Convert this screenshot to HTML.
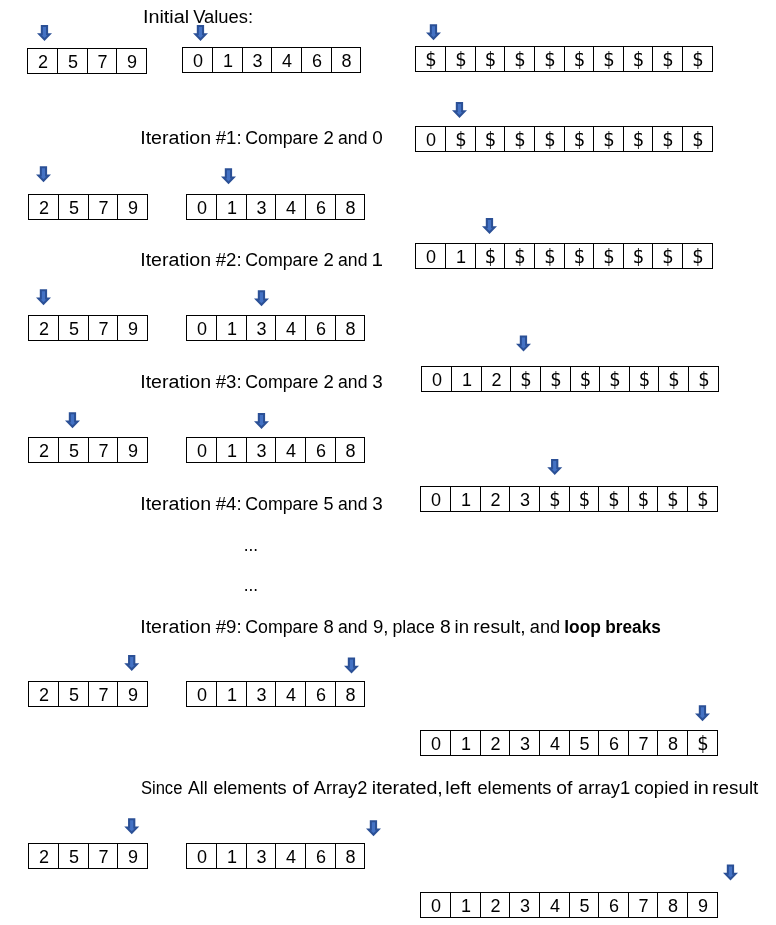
<!DOCTYPE html>
<html lang="en">
<head>
<meta charset="utf-8">
<title>Merge two sorted arrays</title>
<style>
html,body{margin:0;padding:0;background:#fff;}
body{width:776px;height:925px;overflow:hidden;}
svg{display:block;will-change:transform;transform:translateZ(0);}
text{font-family:"Liberation Sans",sans-serif;fill:#000;}
.t{font-size:18px;}
.b{font-size:18px;font-weight:bold;}
.d{font-size:18px;text-anchor:middle;}
.s{font-family:"DejaVu Sans Condensed","DejaVu Sans","Liberation Sans",sans-serif;font-size:20px;text-anchor:middle;}
.g{fill:none;stroke:#000;stroke-width:1;shape-rendering:crispEdges;}
.ao{fill:#2b5096;}
.ai{fill:#4472c4;}
</style>
</head>
<body>
<svg width="776" height="925" viewBox="0 0 776 925">

<path class="g" d="M27.5 48.5H146.5V73.5H27.5ZM57.5 48.5V73.5M87.5 48.5V73.5M116.5 48.5V73.5"/>
<text class="d" x="43.10" y="68.00">2</text>
<text class="d" x="73.10" y="68.00">5</text>
<text class="d" x="102.60" y="68.00">7</text>
<text class="d" x="132.10" y="68.00">9</text>
<path class="g" d="M182.5 47.5H360.5V72.5H182.5ZM212.5 47.5V72.5M242.5 47.5V72.5M271.5 47.5V72.5M301.5 47.5V72.5M331.5 47.5V72.5"/>
<text class="d" x="198.10" y="67.00">0</text>
<text class="d" x="228.10" y="67.00">1</text>
<text class="d" x="257.60" y="67.00">3</text>
<text class="d" x="287.10" y="67.00">4</text>
<text class="d" x="317.10" y="67.00">6</text>
<text class="d" x="346.60" y="67.00">8</text>
<path class="g" d="M415.5 46.5H712.5V71.5H415.5ZM445.5 46.5V71.5M475.5 46.5V71.5M504.5 46.5V71.5M534.5 46.5V71.5M564.5 46.5V71.5M593.5 46.5V71.5M623.5 46.5V71.5M652.5 46.5V71.5M682.5 46.5V71.5"/>
<text class="s" x="431.10" y="65.80">$</text>
<text class="s" x="461.10" y="65.80">$</text>
<text class="s" x="490.60" y="65.80">$</text>
<text class="s" x="520.10" y="65.80">$</text>
<text class="s" x="550.10" y="65.80">$</text>
<text class="s" x="579.60" y="65.80">$</text>
<text class="s" x="609.10" y="65.80">$</text>
<text class="s" x="638.60" y="65.80">$</text>
<text class="s" x="668.10" y="65.80">$</text>
<text class="s" x="698.10" y="65.80">$</text>
<path class="g" d="M415.5 126.5H712.5V151.5H415.5ZM445.5 126.5V151.5M475.5 126.5V151.5M504.5 126.5V151.5M534.5 126.5V151.5M564.5 126.5V151.5M593.5 126.5V151.5M623.5 126.5V151.5M652.5 126.5V151.5M682.5 126.5V151.5"/>
<text class="d" x="431.10" y="146.00">0</text>
<text class="s" x="461.10" y="145.80">$</text>
<text class="s" x="490.60" y="145.80">$</text>
<text class="s" x="520.10" y="145.80">$</text>
<text class="s" x="550.10" y="145.80">$</text>
<text class="s" x="579.60" y="145.80">$</text>
<text class="s" x="609.10" y="145.80">$</text>
<text class="s" x="638.60" y="145.80">$</text>
<text class="s" x="668.10" y="145.80">$</text>
<text class="s" x="698.10" y="145.80">$</text>
<path class="g" d="M28.5 194.5H147.5V219.5H28.5ZM58.5 194.5V219.5M88.5 194.5V219.5M117.5 194.5V219.5"/>
<text class="d" x="44.10" y="214.00">2</text>
<text class="d" x="74.10" y="214.00">5</text>
<text class="d" x="103.60" y="214.00">7</text>
<text class="d" x="133.10" y="214.00">9</text>
<path class="g" d="M186.5 194.5H364.5V219.5H186.5ZM216.5 194.5V219.5M246.5 194.5V219.5M275.5 194.5V219.5M305.5 194.5V219.5M335.5 194.5V219.5"/>
<text class="d" x="202.10" y="214.00">0</text>
<text class="d" x="232.10" y="214.00">1</text>
<text class="d" x="261.60" y="214.00">3</text>
<text class="d" x="291.10" y="214.00">4</text>
<text class="d" x="321.10" y="214.00">6</text>
<text class="d" x="350.60" y="214.00">8</text>
<path class="g" d="M415.5 243.5H712.5V268.5H415.5ZM445.5 243.5V268.5M475.5 243.5V268.5M504.5 243.5V268.5M534.5 243.5V268.5M564.5 243.5V268.5M593.5 243.5V268.5M623.5 243.5V268.5M652.5 243.5V268.5M682.5 243.5V268.5"/>
<text class="d" x="431.10" y="263.00">0</text>
<text class="d" x="461.10" y="263.00">1</text>
<text class="s" x="490.60" y="262.80">$</text>
<text class="s" x="520.10" y="262.80">$</text>
<text class="s" x="550.10" y="262.80">$</text>
<text class="s" x="579.60" y="262.80">$</text>
<text class="s" x="609.10" y="262.80">$</text>
<text class="s" x="638.60" y="262.80">$</text>
<text class="s" x="668.10" y="262.80">$</text>
<text class="s" x="698.10" y="262.80">$</text>
<path class="g" d="M28.5 315.5H147.5V340.5H28.5ZM58.5 315.5V340.5M88.5 315.5V340.5M117.5 315.5V340.5"/>
<text class="d" x="44.10" y="335.00">2</text>
<text class="d" x="74.10" y="335.00">5</text>
<text class="d" x="103.60" y="335.00">7</text>
<text class="d" x="133.10" y="335.00">9</text>
<path class="g" d="M186.5 315.5H364.5V340.5H186.5ZM216.5 315.5V340.5M246.5 315.5V340.5M275.5 315.5V340.5M305.5 315.5V340.5M335.5 315.5V340.5"/>
<text class="d" x="202.10" y="335.00">0</text>
<text class="d" x="232.10" y="335.00">1</text>
<text class="d" x="261.60" y="335.00">3</text>
<text class="d" x="291.10" y="335.00">4</text>
<text class="d" x="321.10" y="335.00">6</text>
<text class="d" x="350.60" y="335.00">8</text>
<path class="g" d="M421.5 366.5H718.5V391.5H421.5ZM451.5 366.5V391.5M481.5 366.5V391.5M510.5 366.5V391.5M540.5 366.5V391.5M570.5 366.5V391.5M599.5 366.5V391.5M629.5 366.5V391.5M658.5 366.5V391.5M688.5 366.5V391.5"/>
<text class="d" x="437.10" y="386.00">0</text>
<text class="d" x="467.10" y="386.00">1</text>
<text class="d" x="496.60" y="386.00">2</text>
<text class="s" x="526.10" y="385.80">$</text>
<text class="s" x="556.10" y="385.80">$</text>
<text class="s" x="585.60" y="385.80">$</text>
<text class="s" x="615.10" y="385.80">$</text>
<text class="s" x="644.60" y="385.80">$</text>
<text class="s" x="674.10" y="385.80">$</text>
<text class="s" x="704.10" y="385.80">$</text>
<path class="g" d="M28.5 437.5H147.5V462.5H28.5ZM58.5 437.5V462.5M88.5 437.5V462.5M117.5 437.5V462.5"/>
<text class="d" x="44.10" y="457.00">2</text>
<text class="d" x="74.10" y="457.00">5</text>
<text class="d" x="103.60" y="457.00">7</text>
<text class="d" x="133.10" y="457.00">9</text>
<path class="g" d="M186.5 437.5H364.5V462.5H186.5ZM216.5 437.5V462.5M246.5 437.5V462.5M275.5 437.5V462.5M305.5 437.5V462.5M335.5 437.5V462.5"/>
<text class="d" x="202.10" y="457.00">0</text>
<text class="d" x="232.10" y="457.00">1</text>
<text class="d" x="261.60" y="457.00">3</text>
<text class="d" x="291.10" y="457.00">4</text>
<text class="d" x="321.10" y="457.00">6</text>
<text class="d" x="350.60" y="457.00">8</text>
<path class="g" d="M420.5 486.5H717.5V511.5H420.5ZM450.5 486.5V511.5M480.5 486.5V511.5M509.5 486.5V511.5M539.5 486.5V511.5M569.5 486.5V511.5M598.5 486.5V511.5M628.5 486.5V511.5M657.5 486.5V511.5M687.5 486.5V511.5"/>
<text class="d" x="436.10" y="506.00">0</text>
<text class="d" x="466.10" y="506.00">1</text>
<text class="d" x="495.60" y="506.00">2</text>
<text class="d" x="525.10" y="506.00">3</text>
<text class="s" x="555.10" y="505.80">$</text>
<text class="s" x="584.60" y="505.80">$</text>
<text class="s" x="614.10" y="505.80">$</text>
<text class="s" x="643.60" y="505.80">$</text>
<text class="s" x="673.10" y="505.80">$</text>
<text class="s" x="703.10" y="505.80">$</text>
<path class="g" d="M28.5 681.5H147.5V706.5H28.5ZM58.5 681.5V706.5M88.5 681.5V706.5M117.5 681.5V706.5"/>
<text class="d" x="44.10" y="701.00">2</text>
<text class="d" x="74.10" y="701.00">5</text>
<text class="d" x="103.60" y="701.00">7</text>
<text class="d" x="133.10" y="701.00">9</text>
<path class="g" d="M186.5 681.5H364.5V706.5H186.5ZM216.5 681.5V706.5M246.5 681.5V706.5M275.5 681.5V706.5M305.5 681.5V706.5M335.5 681.5V706.5"/>
<text class="d" x="202.10" y="701.00">0</text>
<text class="d" x="232.10" y="701.00">1</text>
<text class="d" x="261.60" y="701.00">3</text>
<text class="d" x="291.10" y="701.00">4</text>
<text class="d" x="321.10" y="701.00">6</text>
<text class="d" x="350.60" y="701.00">8</text>
<path class="g" d="M420.5 730.5H717.5V755.5H420.5ZM450.5 730.5V755.5M480.5 730.5V755.5M509.5 730.5V755.5M539.5 730.5V755.5M569.5 730.5V755.5M598.5 730.5V755.5M628.5 730.5V755.5M657.5 730.5V755.5M687.5 730.5V755.5"/>
<text class="d" x="436.10" y="750.00">0</text>
<text class="d" x="466.10" y="750.00">1</text>
<text class="d" x="495.60" y="750.00">2</text>
<text class="d" x="525.10" y="750.00">3</text>
<text class="d" x="555.10" y="750.00">4</text>
<text class="d" x="584.60" y="750.00">5</text>
<text class="d" x="614.10" y="750.00">6</text>
<text class="d" x="643.60" y="750.00">7</text>
<text class="d" x="673.10" y="750.00">8</text>
<text class="s" x="703.10" y="749.80">$</text>
<path class="g" d="M28.5 843.5H147.5V868.5H28.5ZM58.5 843.5V868.5M88.5 843.5V868.5M117.5 843.5V868.5"/>
<text class="d" x="44.10" y="863.00">2</text>
<text class="d" x="74.10" y="863.00">5</text>
<text class="d" x="103.60" y="863.00">7</text>
<text class="d" x="133.10" y="863.00">9</text>
<path class="g" d="M186.5 843.5H364.5V868.5H186.5ZM216.5 843.5V868.5M246.5 843.5V868.5M275.5 843.5V868.5M305.5 843.5V868.5M335.5 843.5V868.5"/>
<text class="d" x="202.10" y="863.00">0</text>
<text class="d" x="232.10" y="863.00">1</text>
<text class="d" x="261.60" y="863.00">3</text>
<text class="d" x="291.10" y="863.00">4</text>
<text class="d" x="321.10" y="863.00">6</text>
<text class="d" x="350.60" y="863.00">8</text>
<path class="g" d="M420.5 892.5H717.5V917.5H420.5ZM450.5 892.5V917.5M480.5 892.5V917.5M509.5 892.5V917.5M539.5 892.5V917.5M569.5 892.5V917.5M598.5 892.5V917.5M628.5 892.5V917.5M657.5 892.5V917.5M687.5 892.5V917.5"/>
<text class="d" x="436.10" y="912.00">0</text>
<text class="d" x="466.10" y="912.00">1</text>
<text class="d" x="495.60" y="912.00">2</text>
<text class="d" x="525.10" y="912.00">3</text>
<text class="d" x="555.10" y="912.00">4</text>
<text class="d" x="584.60" y="912.00">5</text>
<text class="d" x="614.10" y="912.00">6</text>
<text class="d" x="643.60" y="912.00">7</text>
<text class="d" x="673.10" y="912.00">8</text>
<text class="d" x="703.10" y="912.00">9</text>
<polygon class="ao" points="40.80,25.00 48.10,25.00 48.10,33.30 52.00,33.30 44.50,41.00 37.00,33.30 40.80,33.30"/><polygon class="ai" points="42.85,26.90 46.05,26.90 46.05,35.15 47.40,35.15 44.50,38.05 41.60,35.15 42.85,35.15"/>
<polygon class="ao" points="196.80,25.00 204.10,25.00 204.10,33.30 208.00,33.30 200.50,41.00 193.00,33.30 196.80,33.30"/><polygon class="ai" points="198.85,26.90 202.05,26.90 202.05,35.15 203.40,35.15 200.50,38.05 197.60,35.15 198.85,35.15"/>
<polygon class="ao" points="429.80,24.25 437.10,24.25 437.10,32.55 441.00,32.55 433.50,40.25 426.00,32.55 429.80,32.55"/><polygon class="ai" points="431.85,26.15 435.05,26.15 435.05,34.40 436.40,34.40 433.50,37.30 430.60,34.40 431.85,34.40"/>
<polygon class="ao" points="455.80,102.00 463.10,102.00 463.10,110.30 467.00,110.30 459.50,118.00 452.00,110.30 455.80,110.30"/><polygon class="ai" points="457.85,103.90 461.05,103.90 461.05,112.15 462.40,112.15 459.50,115.05 456.60,112.15 457.85,112.15"/>
<polygon class="ao" points="39.80,166.25 47.10,166.25 47.10,174.55 51.00,174.55 43.50,182.25 36.00,174.55 39.80,174.55"/><polygon class="ai" points="41.85,168.15 45.05,168.15 45.05,176.40 46.40,176.40 43.50,179.30 40.60,176.40 41.85,176.40"/>
<polygon class="ao" points="224.80,168.25 232.10,168.25 232.10,176.55 236.00,176.55 228.50,184.25 221.00,176.55 224.80,176.55"/><polygon class="ai" points="226.85,170.15 230.05,170.15 230.05,178.40 231.40,178.40 228.50,181.30 225.60,178.40 226.85,178.40"/>
<polygon class="ao" points="485.80,218.00 493.10,218.00 493.10,226.30 497.00,226.30 489.50,234.00 482.00,226.30 485.80,226.30"/><polygon class="ai" points="487.85,219.90 491.05,219.90 491.05,228.15 492.40,228.15 489.50,231.05 486.60,228.15 487.85,228.15"/>
<polygon class="ao" points="39.80,289.25 47.10,289.25 47.10,297.55 51.00,297.55 43.50,305.25 36.00,297.55 39.80,297.55"/><polygon class="ai" points="41.85,291.15 45.05,291.15 45.05,299.40 46.40,299.40 43.50,302.30 40.60,299.40 41.85,299.40"/>
<polygon class="ao" points="257.80,290.25 265.10,290.25 265.10,298.55 269.00,298.55 261.50,306.25 254.00,298.55 257.80,298.55"/><polygon class="ai" points="259.85,292.15 263.05,292.15 263.05,300.40 264.40,300.40 261.50,303.30 258.60,300.40 259.85,300.40"/>
<polygon class="ao" points="519.80,335.50 527.10,335.50 527.10,343.80 531.00,343.80 523.50,351.50 516.00,343.80 519.80,343.80"/><polygon class="ai" points="521.85,337.40 525.05,337.40 525.05,345.65 526.40,345.65 523.50,348.55 520.60,345.65 521.85,345.65"/>
<polygon class="ao" points="68.80,412.25 76.10,412.25 76.10,420.55 80.00,420.55 72.50,428.25 65.00,420.55 68.80,420.55"/><polygon class="ai" points="70.85,414.15 74.05,414.15 74.05,422.40 75.40,422.40 72.50,425.30 69.60,422.40 70.85,422.40"/>
<polygon class="ao" points="257.80,413.00 265.10,413.00 265.10,421.30 269.00,421.30 261.50,429.00 254.00,421.30 257.80,421.30"/><polygon class="ai" points="259.85,414.90 263.05,414.90 263.05,423.15 264.40,423.15 261.50,426.05 258.60,423.15 259.85,423.15"/>
<polygon class="ao" points="551.05,459.00 558.35,459.00 558.35,467.30 562.25,467.30 554.75,475.00 547.25,467.30 551.05,467.30"/><polygon class="ai" points="553.10,460.90 556.30,460.90 556.30,469.15 557.65,469.15 554.75,472.05 551.85,469.15 553.10,469.15"/>
<polygon class="ao" points="128.05,655.00 135.35,655.00 135.35,663.30 139.25,663.30 131.75,671.00 124.25,663.30 128.05,663.30"/><polygon class="ai" points="130.10,656.90 133.30,656.90 133.30,665.15 134.65,665.15 131.75,668.05 128.85,665.15 130.10,665.15"/>
<polygon class="ao" points="347.80,657.50 355.10,657.50 355.10,665.80 359.00,665.80 351.50,673.50 344.00,665.80 347.80,665.80"/><polygon class="ai" points="349.85,659.40 353.05,659.40 353.05,667.65 354.40,667.65 351.50,670.55 348.60,667.65 349.85,667.65"/>
<polygon class="ao" points="698.80,705.25 706.10,705.25 706.10,713.55 710.00,713.55 702.50,721.25 695.00,713.55 698.80,713.55"/><polygon class="ai" points="700.85,707.15 704.05,707.15 704.05,715.40 705.40,715.40 702.50,718.30 699.60,715.40 700.85,715.40"/>
<polygon class="ao" points="128.05,818.25 135.35,818.25 135.35,826.55 139.25,826.55 131.75,834.25 124.25,826.55 128.05,826.55"/><polygon class="ai" points="130.10,820.15 133.30,820.15 133.30,828.40 134.65,828.40 131.75,831.30 128.85,828.40 130.10,828.40"/>
<polygon class="ao" points="369.80,820.25 377.10,820.25 377.10,828.55 381.00,828.55 373.50,836.25 366.00,828.55 369.80,828.55"/><polygon class="ai" points="371.85,822.15 375.05,822.15 375.05,830.40 376.40,830.40 373.50,833.30 370.60,830.40 371.85,830.40"/>
<polygon class="ao" points="726.80,864.50 734.10,864.50 734.10,872.80 738.00,872.80 730.50,880.50 723.00,872.80 726.80,872.80"/><polygon class="ai" points="728.85,866.40 732.05,866.40 732.05,874.65 733.40,874.65 730.50,877.55 727.60,874.65 728.85,874.65"/>
<text class="t" y="23.0"><tspan x="142.91" textLength="46.26" lengthAdjust="spacingAndGlyphs">Initial</tspan> <tspan x="193.17" textLength="59.97" lengthAdjust="spacingAndGlyphs">Values:</tspan></text>
<text class="t" y="144.25"><tspan x="140.23" textLength="70.85" lengthAdjust="spacingAndGlyphs">Iteration</tspan> <tspan x="215.77" textLength="25.84" lengthAdjust="spacingAndGlyphs">#1:</tspan> <tspan x="245.24" textLength="73.03" lengthAdjust="spacingAndGlyphs">Compare</tspan> <tspan x="323.40" textLength="10.32" lengthAdjust="spacingAndGlyphs">2</tspan> <tspan x="338.07" textLength="29.38" lengthAdjust="spacingAndGlyphs">and</tspan> <tspan x="372.31" textLength="10.49" lengthAdjust="spacingAndGlyphs">0</tspan></text>
<text class="t" y="266.25"><tspan x="140.23" textLength="70.85" lengthAdjust="spacingAndGlyphs">Iteration</tspan> <tspan x="215.77" textLength="25.84" lengthAdjust="spacingAndGlyphs">#2:</tspan> <tspan x="245.24" textLength="73.03" lengthAdjust="spacingAndGlyphs">Compare</tspan> <tspan x="323.40" textLength="10.32" lengthAdjust="spacingAndGlyphs">2</tspan> <tspan x="338.07" textLength="29.38" lengthAdjust="spacingAndGlyphs">and</tspan> <tspan x="371.52" textLength="11.50" lengthAdjust="spacingAndGlyphs">1</tspan></text>
<text class="t" y="388.0"><tspan x="140.23" textLength="70.85" lengthAdjust="spacingAndGlyphs">Iteration</tspan> <tspan x="215.77" textLength="25.84" lengthAdjust="spacingAndGlyphs">#3:</tspan> <tspan x="245.24" textLength="73.03" lengthAdjust="spacingAndGlyphs">Compare</tspan> <tspan x="323.40" textLength="10.32" lengthAdjust="spacingAndGlyphs">2</tspan> <tspan x="338.07" textLength="29.38" lengthAdjust="spacingAndGlyphs">and</tspan> <tspan x="372.31" textLength="10.49" lengthAdjust="spacingAndGlyphs">3</tspan></text>
<text class="t" y="510.25"><tspan x="140.23" textLength="70.85" lengthAdjust="spacingAndGlyphs">Iteration</tspan> <tspan x="215.77" textLength="25.84" lengthAdjust="spacingAndGlyphs">#4:</tspan> <tspan x="245.24" textLength="73.03" lengthAdjust="spacingAndGlyphs">Compare</tspan> <tspan x="323.55" textLength="10.02" lengthAdjust="spacingAndGlyphs">5</tspan> <tspan x="338.07" textLength="29.38" lengthAdjust="spacingAndGlyphs">and</tspan> <tspan x="372.31" textLength="10.49" lengthAdjust="spacingAndGlyphs">3</tspan></text>
<text class="t" y="551.0"><tspan x="243.69" textLength="14.38" lengthAdjust="spacingAndGlyphs">...</tspan></text>
<text class="t" y="591.0"><tspan x="243.69" textLength="14.38" lengthAdjust="spacingAndGlyphs">...</tspan></text>
<text class="t" y="632.5"><tspan x="140.23" textLength="70.85" lengthAdjust="spacingAndGlyphs">Iteration</tspan> <tspan x="215.77" textLength="25.84" lengthAdjust="spacingAndGlyphs">#9:</tspan> <tspan x="245.24" textLength="73.03" lengthAdjust="spacingAndGlyphs">Compare</tspan> <tspan x="323.63" textLength="10.25" lengthAdjust="spacingAndGlyphs">8</tspan> <tspan x="338.07" textLength="29.38" lengthAdjust="spacingAndGlyphs">and</tspan> <tspan x="373.00" textLength="15.50" lengthAdjust="spacingAndGlyphs">9,</tspan> <tspan x="392.39" textLength="42.48" lengthAdjust="spacingAndGlyphs">place</tspan> <tspan x="440.00" textLength="10.72" lengthAdjust="spacingAndGlyphs">8</tspan> <tspan x="454.61" textLength="14.47" lengthAdjust="spacingAndGlyphs">in</tspan> <tspan x="473.37" textLength="52.19" lengthAdjust="spacingAndGlyphs">result,</tspan> <tspan x="529.84" textLength="30.34" lengthAdjust="spacingAndGlyphs">and</tspan> <tspan class="b" x="564.19" textLength="36.73" lengthAdjust="spacingAndGlyphs">loop</tspan> <tspan class="b" x="605.30" textLength="55.56" lengthAdjust="spacingAndGlyphs">breaks</tspan></text>
<text class="t" y="794.0"><tspan x="140.89" textLength="41.53" lengthAdjust="spacingAndGlyphs">Since</tspan> <tspan x="188.10" textLength="19.64" lengthAdjust="spacingAndGlyphs">All</tspan> <tspan x="213.15" textLength="73.53" lengthAdjust="spacingAndGlyphs">elements</tspan> <tspan x="292.39" textLength="16.23" lengthAdjust="spacingAndGlyphs">of</tspan> <tspan x="313.80" textLength="53.50" lengthAdjust="spacingAndGlyphs">Array2</tspan> <tspan x="371.84" textLength="70.99" lengthAdjust="spacingAndGlyphs">iterated,</tspan> <tspan x="445.36" textLength="25.79" lengthAdjust="spacingAndGlyphs">left</tspan> <tspan x="477.44" textLength="74.04" lengthAdjust="spacingAndGlyphs">elements</tspan> <tspan x="556.39" textLength="16.12" lengthAdjust="spacingAndGlyphs">of</tspan> <tspan x="578.03" textLength="52.19" lengthAdjust="spacingAndGlyphs">array1</tspan> <tspan x="634.23" textLength="54.78" lengthAdjust="spacingAndGlyphs">copied</tspan> <tspan x="693.41" textLength="15.55" lengthAdjust="spacingAndGlyphs">in</tspan> <tspan x="712.29" textLength="46.06" lengthAdjust="spacingAndGlyphs">result</tspan></text>
</svg>
</body>
</html>
